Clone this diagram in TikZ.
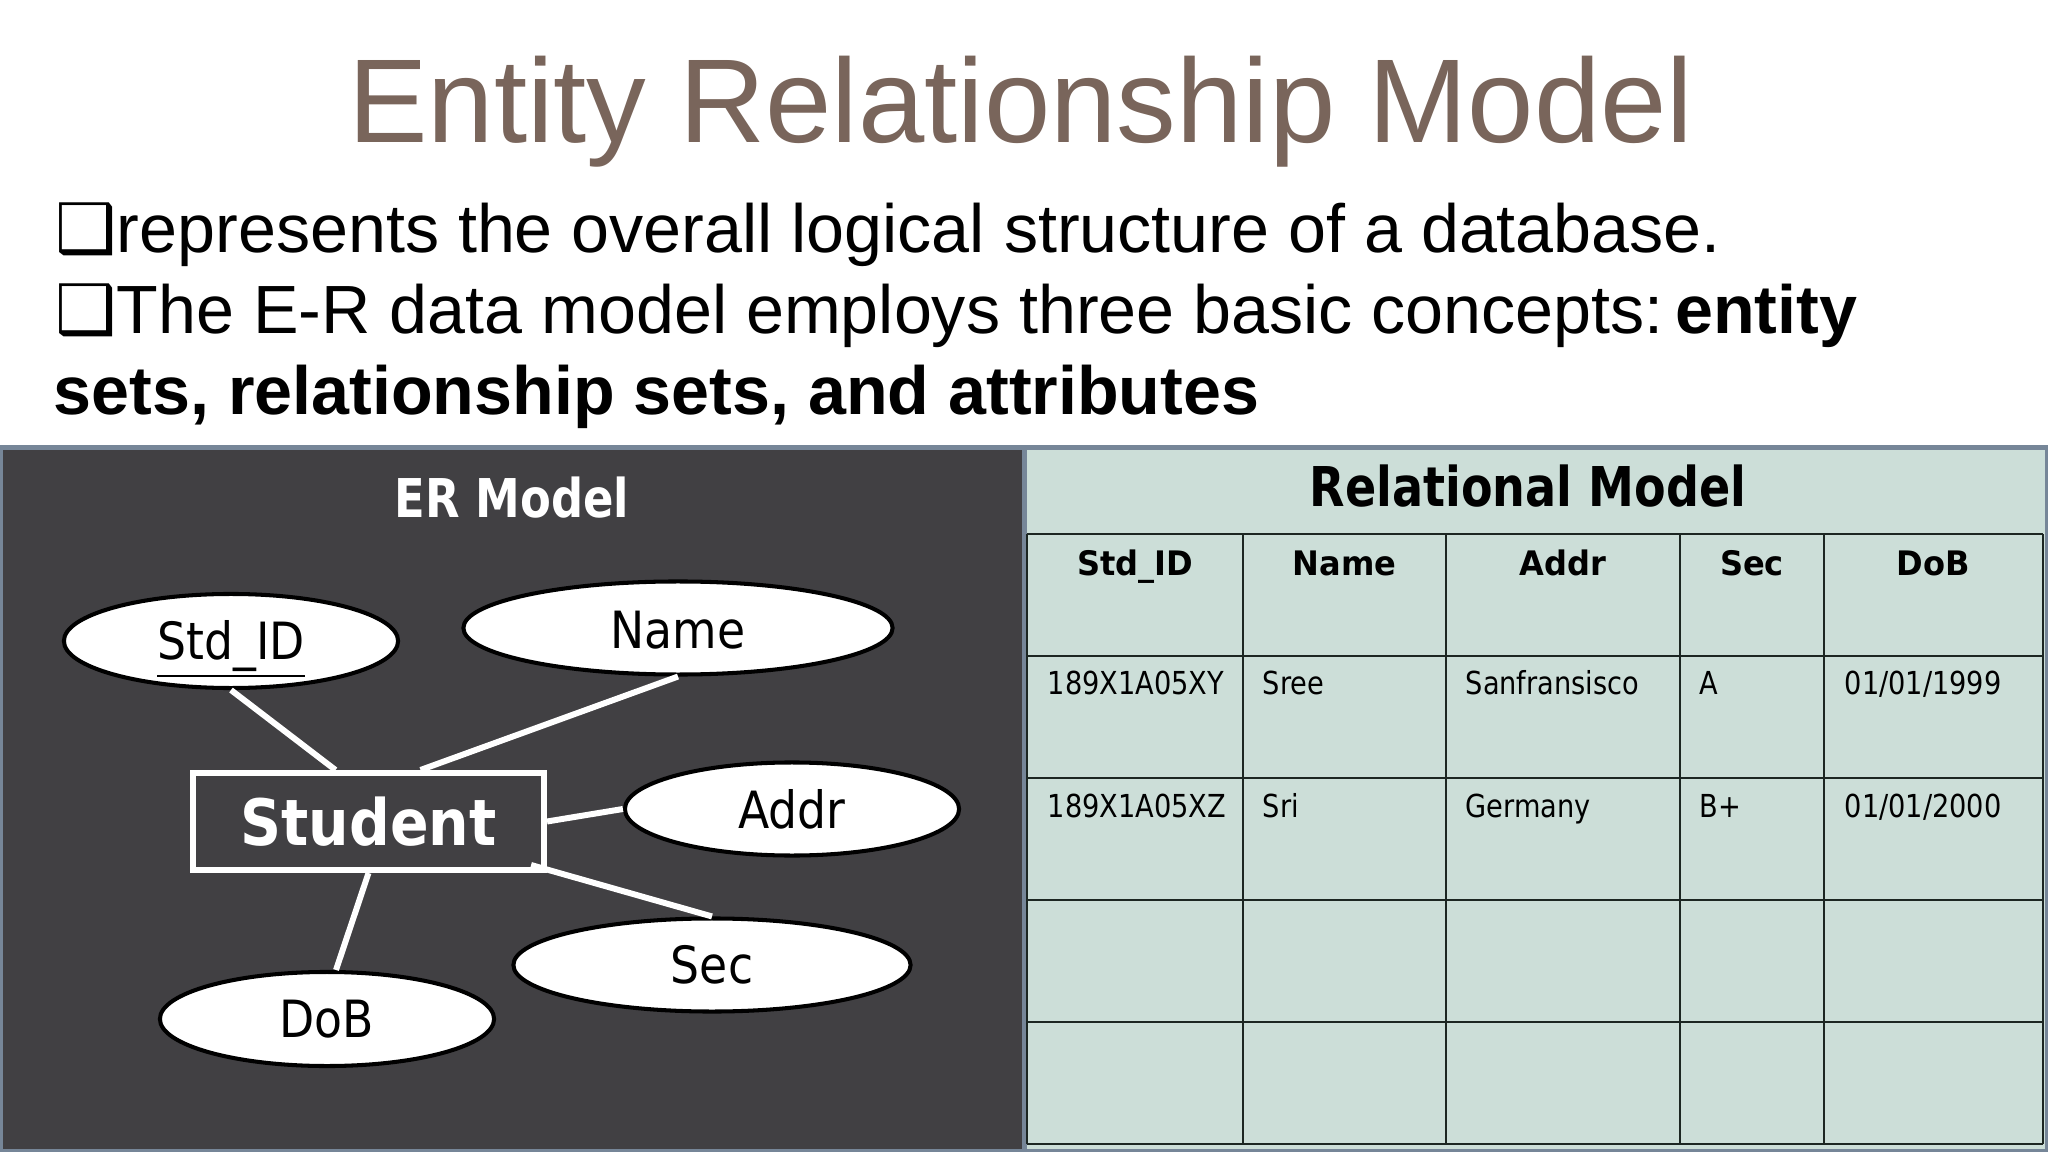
\documentclass[tikz,border=0pt]{standalone}
\usepackage{fontspec}
\setmainfont{Liberation Sans}
\newfontfamily\boxfont{DejaVu Sans}
\newfontfamily\erfont[FakeStretch=0.89]{DejaVu Sans}
\newfontfamily\hdfont[FakeStretch=0.84]{DejaVu Sans}
\newfontfamily\colfont[FakeStretch=0.95]{DejaVu Sans}
\newfontfamily\tabfont[FakeStretch=0.86]{DejaVu Sans}
\usetikzlibrary{positioning,shapes.geometric,calc}
\definecolor{titlebrown}{RGB}{121,101,91}
\definecolor{edgeblue}{RGB}{118,134,152}
\definecolor{darkpanel}{RGB}{65,64,67}
\definecolor{lightpanel}{RGB}{204,222,216}
\definecolor{gridink}{RGB}{28,38,34}

\begin{document}
\begin{tikzpicture}[x=0.01cm, y=-0.01cm,
  attr/.style={ellipse, draw=black, fill=white, line width=1.15pt, inner sep=0pt,
    minimum width=3.34cm, minimum height=0.94cm, font=\erfont\fontsize{14.6}{15}\selectfont},
  entity/.style={rectangle, draw=white, line width=1.7pt, inner sep=0pt, text=white,
    minimum width=3.51cm, minimum height=0.97cm, font=\erfont\bfseries\fontsize{18.2}{19}\selectfont},
  link/.style={draw=white, line width=1.7pt},
  gridline/.style={draw=gridink, line width=0.55pt},
  colhead/.style={anchor=base, font=\colfont\bfseries\fontsize{9.6}{10}\selectfont},
  cell/.style={anchor=base west, inner sep=0pt, font=\tabfont\fontsize{9}{10}\selectfont},
  bullet/.style={anchor=base west, inner sep=0pt, font=\fontsize{19.4}{20}\selectfont}]
\useasboundingbox (0,0) rectangle (2048,1152);

% slide text
\node[anchor=base, text=titlebrown, font=\fontsize{33.9}{36}\selectfont] (title) at (1021,143) {Entity Relationship Model};
\node[bullet] (line1) at (55,253) {{\boxfont ❑}represents the overall logical structure of a database.};
\node[bullet] (line2) at (55,334) {{\boxfont ❑}The E-R data model employs three basic concepts:\,\textbf{entity}};
\node[bullet] (line3) at (53,415) {\textbf{sets, relationship sets, and attributes}};

% panels
\fill[edgeblue] (0,445) rectangle (2048,1152);
\fill[darkpanel] (3,450) rectangle (1022,1149);
\fill[lightpanel] (1027,450) rectangle (2045,1149);

% ER model
\node[anchor=base, text=white, font=\hdfont\bfseries\fontsize{15.2}{16}\selectfont] (ertitle) at (512,518) {ER Model};
\node[entity] (student) at (368.5,821.5) {Student};
\node[attr] (stdid) at (231,641) {\raisebox{-2.3pt}[\height][\depth]{\underline{Std\_ID}}};
\node[attr, minimum width=4.29cm, minimum height=0.93cm] (name) at (678,628) {\raisebox{-0.7pt}[\height][\depth]{Name}};
\node[attr, minimum height=0.93cm] (addr) at (792,809) {Addr};
\node[attr, minimum width=3.97cm, minimum height=0.93cm] (sec) at (712,965) {Sec};
\node[attr] (dob) at (327,1019) {DoB};
\draw[link] (stdid.south) -- ([xshift=-0.33cm]student.north);
\draw[link] (name.south) -- ([xshift=0.52cm]student.north);
\draw[link] (addr.west) -- (student.east);
\draw[link] ([shift={(-0.16cm,0.08cm)}]student.south east) -- (sec.north);
\draw[link] (student.south) -- ([xshift=0.09cm]dob.north);

% relational model
\node[anchor=base, font=\hdfont\bfseries\fontsize{15.6}{16}\selectfont] (reltitle) at (1528,507) {Relational Model};
\foreach \y in {534,656,...,1144}
  \draw[gridline] (1027,\y) -- (2043,\y);
\foreach \x in {1027,1243,1446,1680,1824,2043}
  \draw[gridline] (\x,534) -- (\x,1144);
\foreach \x/\t [count=\i] in {1135/Std\_ID, 1344.5/Name, 1563/Addr, 1752/Sec, 1933.5/DoB}
  \node[colhead] (hd\i) at (\x,576) {\t};
\foreach \x/\t [count=\i] in {1047/189X1A05XY, 1262/Sree, 1465/Sanfransisco, 1699/A, 1844/{01/01/1999}}
  \node[cell] (ra\i) at (\x,695) {\t};
\foreach \x/\t [count=\i] in {1047/189X1A05XZ, 1262/Sri, 1465/Germany, 1699/B+, 1844/{01/01/2000}}
  \node[cell] (rb\i) at (\x,817) {\t};
\end{tikzpicture}
\end{document}
